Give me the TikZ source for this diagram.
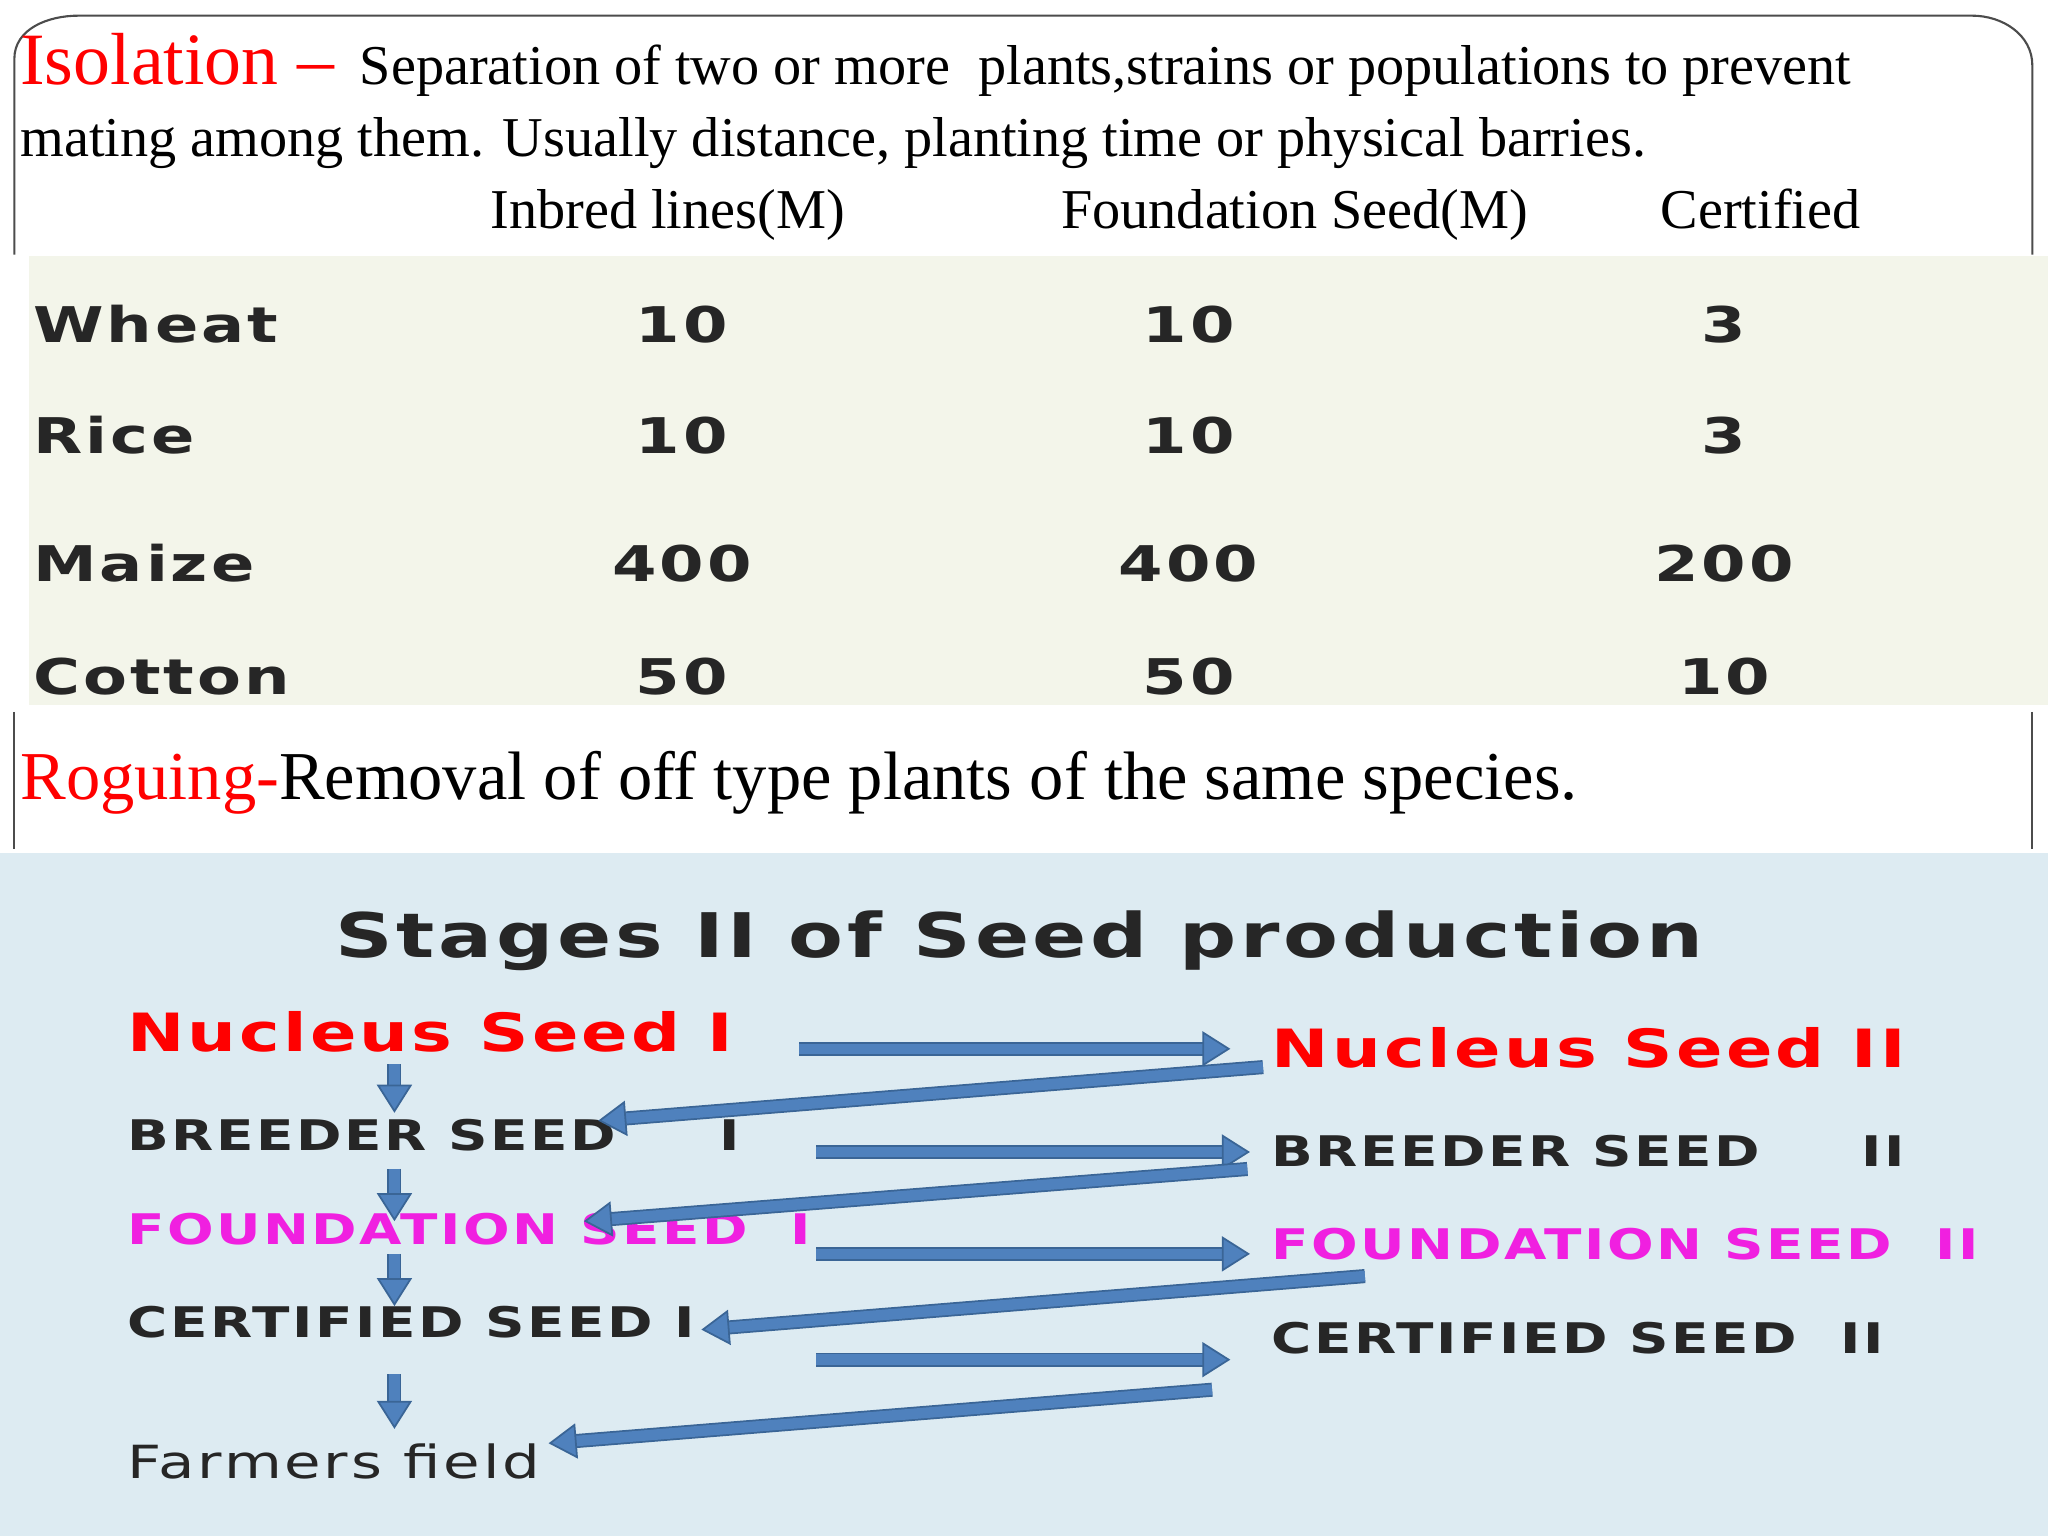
\documentclass[tikz,border=0pt]{standalone}
\usepackage{fontspec}
\setmainfont{Liberation Serif}
\newfontfamily\wide[LetterSpace=6,FakeStretch=1.3]{DejaVu Sans}
\newfontfamily\wideb[LetterSpace=6,FakeStretch=1.3]{DejaVu Sans Bold}
\usetikzlibrary{arrows.meta}
\definecolor{tbl}{HTML}{F3F5EA}
\definecolor{sky}{HTML}{DDEBF2}
\definecolor{arr}{HTML}{4F81BD}
\definecolor{arrd}{HTML}{3A6596}
\definecolor{mag}{HTML}{F020E0}
\begin{document}
\begin{tikzpicture}[x=0.013061cm,y=-0.013061cm,
  serif/.style={anchor=base west,inner sep=0,font=\fontsize{16}{18}\selectfont},
  cell/.style={anchor=base west,inner sep=0,font=\wideb\fontsize{14}{16}\selectfont,text=black!85},
  lbl/.style={anchor=base west,inner sep=0,font=\wideb\fontsize{12}{14}\selectfont,text=black!85},
  big/.style={anchor=base west,inner sep=0,font=\wideb\fontsize{15}{17}\selectfont,text=red},
  blk/.style={double=arr,double distance=3pt,draw=arrd,line width=0.5pt,-{Triangle[length=8pt,width=10pt,fill=arr]}},
  dn/.style={blk}]
\useasboundingbox (0,0) rectangle (1568,1176);
\fill[white] (0,0) rectangle (1568,1176);
\fill[tbl] (22,196) rectangle (1568,540);
\fill[sky] (0,653) rectangle (1568,1176);
\draw[black!70,line width=0.6pt] (11,195) -- (11,45) to[out=90,in=180] (60,12) -- (1510,12) to[out=0,in=90] (1556,50) -- (1556,195);
\draw[black!70,line width=0.6pt] (11,545) -- (11,650) (1556,545) -- (1556,650);
% header text
\node[anchor=base west,inner sep=0,text=red,font=\fontsize{21}{22}\selectfont] (iso) at (15,65) {Isolation –};
\node[serif] (def1) at (275,65) {Separation of two or more\ \ plants,strains or populations to prevent};
\node[serif] (def2) at (15,120) {mating among them. Usually distance, planting time or physical barries.};
\node[serif] (h1) at (375,175) {Inbred lines(M)};
\node[serif] (h2) at (812,175) {Foundation Seed(M)};
\node[serif] (h3) at (1271,175) {Certified};
% table
\foreach \n/\y/\a/\b/\c in {Wheat/262/10/10/3, Rice/347/10/10/3, Maize/445/400/400/200, Cotton/532/50/50/10}{
  \node[cell] (r\n) at (25,\y) {\n};
  \node[cell,anchor=base] (a\n) at (522,\y) {\a};
  \node[cell,anchor=base] (b\n) at (910,\y) {\b};
  \node[cell,anchor=base] (c\n) at (1320,\y) {\c};
}
\node[anchor=base west,inner sep=0,font=\fontsize{19.5}{21}\selectfont] (rog) at (15,612) {\textcolor{red}{Roguing-}Removal of off type plants of the same species.};
% diagram
\node[anchor=base,inner sep=0,font=\wide\fontsize{17.5}{20}\selectfont,text=black!85] (title) at (782,733) {\textbf{Stages II of Seed production}};
\node[big] (n1) at (97,805) {Nucleus Seed I};
\node[lbl] (b1) at (97,881) {BREEDER SEED};
\node[lbl] (b1i) at (550,881) {I};
\node[lbl,text=mag] (f1) at (97,953) {FOUNDATION SEED\ \ I};
\node[lbl] (c1) at (97,1024) {CERTIFIED SEED I};
\node[lbl,font=\wide\fontsize{13}{15}\selectfont] (ff) at (97,1132) {Farmers field};
\node[big] (n2) at (973,817) {Nucleus Seed II};
\node[lbl] (b2) at (973,893) {BREEDER SEED};
\node[lbl] (b2i) at (1425,893) {II};
\node[lbl,text=mag] (f2) at (973,964) {FOUNDATION SEED\ \ II};
\node[lbl] (c2) at (973,1036) {CERTIFIED SEED\ \ II};
% arrows
\coordinate (d1a) at (302,815); \coordinate (d1b) at (302,852);
\coordinate (d2a) at (302,895); \coordinate (d2b) at (302,935);
\coordinate (d3a) at (302,960); \coordinate (d3b) at (302,1000);
\coordinate (d4a) at (302,1052); \coordinate (d4b) at (302,1094);
\foreach \i in {1,...,4}{\draw[dn] (d\i a) -- (d\i b);}
\coordinate (r1a) at (612,803); \coordinate (r1b) at (942,803);
\coordinate (r2a) at (625,882); \coordinate (r2b) at (957,882);
\coordinate (r3a) at (625,960); \coordinate (r3b) at (957,960);
\coordinate (r4a) at (625,1041); \coordinate (r4b) at (942,1041);
\foreach \i in {1,...,4}{\draw[blk] (r\i a) -- (r\i b);}
\coordinate (g1a) at (967,817); \coordinate (g1b) at (458,858);
\coordinate (g2a) at (955,895); \coordinate (g2b) at (447,935);
\coordinate (g3a) at (1045,977); \coordinate (g3b) at (537,1018);
\coordinate (g4a) at (928,1064); \coordinate (g4b) at (420,1105);
\foreach \i in {1,...,4}{\draw[blk] (g\i a) -- (g\i b);}
\end{tikzpicture}
\end{document}
